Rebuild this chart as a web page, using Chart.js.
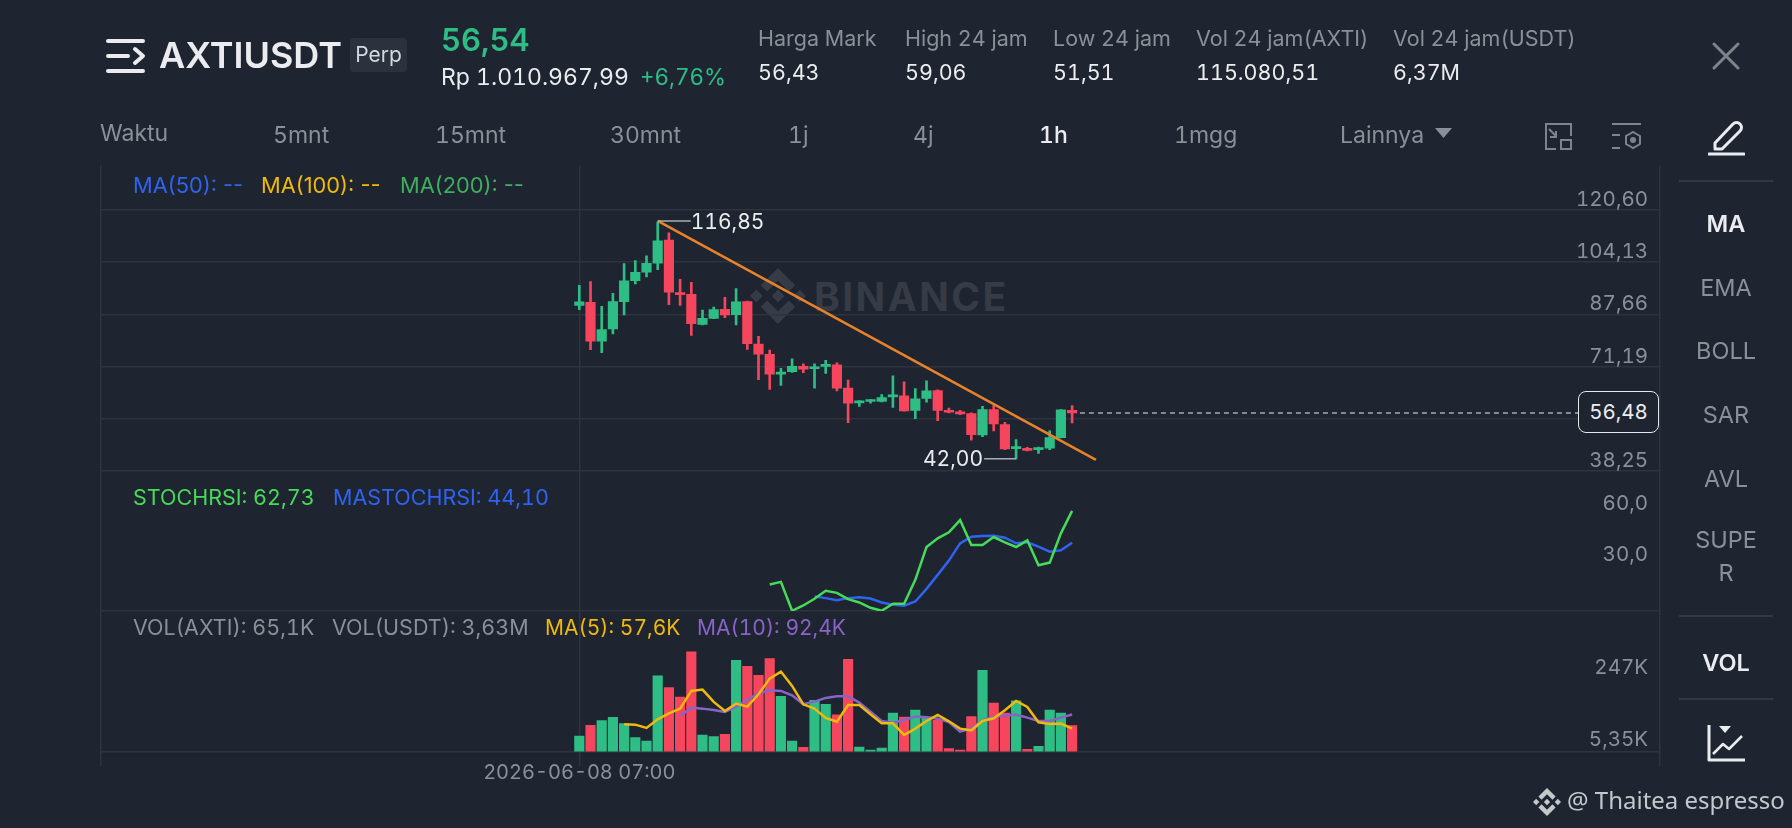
<!DOCTYPE html>
<html>
<head>
<meta charset="utf-8">
<script src="https://cdn.jsdelivr.net/npm/chart.js@4/dist/chart.umd.min.js"></script>
<style>
  html, body { margin: 0; padding: 0; background: #1e2530; width: 1792px; height: 828px; overflow: hidden; }
  body { font-family: Inter, "Noto Sans", sans-serif; color: #eaecef; position: relative; font-variant-numeric: tabular-nums; }
  canvas { position: absolute; left: 0; top: 0; }
  .t { position: absolute; white-space: nowrap; line-height: 1; }
  .g { color: #8b9098; }
  .c { transform: translateX(-50%); }
  .m { font-variant-numeric: normal; font-size: 21.8px; top: 175px; }
  .sep { position: absolute; left: 1679px; width: 94px; height: 2px; background: #323844; }
  svg { position: absolute; }
  #tag { position: absolute; left: 1578px; top: 391px; width: 81px; height: 42px; box-sizing: border-box; border: 1.5px solid #e6e8ea; border-radius: 8px; background: #1e2530; text-align: center; line-height: 40px; font-size: 20.5px; color: #eaecef; }
</style>
</head>
<body>
<svg style="left:750px;top:268px" width="56" height="56" viewBox="0 0 126.61 126.61" fill="#363b46"><path d="M38.73 53.2l24.59-24.58 24.6 24.6 14.3-14.31L63.32 0 24.42 38.9l14.31 14.3z"/><path d="M0 63.31l14.3-14.31 14.31 14.31-14.31 14.3z"/><path d="M38.73 73.41l24.59 24.59 24.6-24.6 14.31 14.29-38.9 38.91-38.91-38.88-.02-.02z"/><path d="M98 63.31l14.3-14.31 14.31 14.3-14.31 14.32z"/><path d="M77.83 63.3L63.32 48.78 52.59 59.51l-1.24 1.23-2.54 2.54 14.51 14.5 14.51-14.47z"/></svg>
<div class="t" style="left:814px;top:277px;font-size:39px;font-weight:700;letter-spacing:2.4px;color:#363b46">BINANCE</div>

<canvas id="chart" width="1792" height="828"></canvas>

<svg style="left:106px;top:38px" width="40" height="36" fill="none" stroke="#eaecef" stroke-width="4" stroke-linecap="round" stroke-linejoin="round"><path d="M2 3H37M2 18H22M2 33H37M29 11L37 18L29 25"/></svg>
<div class="t" style="left:159px;top:37px;font-size:36px;font-weight:600">AXTIUSDT</div>
<div class="t" style="left:350px;top:38px;width:57px;height:34px;background:#2b313d;border-radius:4px;text-align:center;line-height:34px;font-size:21px;color:#d5d8dc">Perp</div>
<div class="t" style="left:441px;top:24px;font-size:31px;font-weight:600;color:#2ebd85">56,54</div>
<div class="t" style="left:441px;top:66px;font-size:23px">Rp 1.010.967,99</div>
<div class="t" style="left:640px;top:66px;font-size:22.4px;color:#2ebd85">+6,76%</div>

<div class="t g" style="left:758px;top:28px;font-size:21.5px">Harga Mark</div>
<div class="t" style="left:758px;top:62px;font-size:21.5px">56,43</div>
<div class="t g" style="left:905px;top:28px;font-size:21.5px">High 24 jam</div>
<div class="t" style="left:905px;top:62px;font-size:21.5px">59,06</div>
<div class="t g" style="left:1053px;top:28px;font-size:21.5px">Low 24 jam</div>
<div class="t" style="left:1053px;top:62px;font-size:21.5px">51,51</div>
<div class="t g" style="left:1196px;top:28px;font-size:21.5px">Vol 24 jam(AXTI)</div>
<div class="t" style="left:1196px;top:62px;font-size:21.5px">115.080,51</div>
<div class="t g" style="left:1393px;top:28px;font-size:21.5px">Vol 24 jam(USDT)</div>
<div class="t" style="left:1393px;top:62px;font-size:21.5px">6,37M</div>

<svg style="left:1712px;top:42px" width="28" height="28" stroke="#7f848c" stroke-width="3" stroke-linecap="round"><path d="M2 2L26 26M26 2L2 26"/></svg>

<div class="t g" style="left:100px;top:122px;font-size:23px">Waktu</div>
<div class="t g" style="left:273px;top:124px;font-size:23px">5mnt</div>
<div class="t g" style="left:435px;top:124px;font-size:23px">15mnt</div>
<div class="t g" style="left:610px;top:124px;font-size:23px">30mnt</div>
<div class="t g" style="left:788px;top:124px;font-size:23px">1j</div>
<div class="t g" style="left:913px;top:124px;font-size:23px">4j</div>
<div class="t" style="left:1039px;top:124px;font-size:23px;font-weight:500">1h</div>
<div class="t g" style="left:1174px;top:124px;font-size:23px">1mgg</div>
<div class="t g" style="left:1340px;top:124px;font-size:23px">Lainnya</div>
<svg style="left:1435px;top:128px" width="17" height="11" fill="#8b9098"><path d="M0 0H17L8.5 10z"/></svg>

<svg style="left:1544px;top:122px" width="29" height="29" fill="none" stroke="#7f848c" stroke-width="2"><path d="M12 27H2V2H27V14M5 7L12 14M6 15H12V9"/><rect x="17" y="18" width="10" height="9"/></svg>
<svg style="left:1611px;top:122px" width="31" height="30" fill="none" stroke="#7f848c" stroke-width="2"><path d="M1 2H30M1 13H9M1 26H9M22 10L29 14V22L22 26L15 22V14Z"/><circle cx="22" cy="18" r="2" fill="#7f848c"/></svg>
<svg style="left:1708px;top:120px" width="37" height="36" fill="none" stroke="#eaecef" stroke-width="3" stroke-linejoin="round"><path d="M7 23L25 4C27 2 30 2 32 4C34 6 34 9 32 11L14 29H7Z"/><path d="M1 34H36" stroke-linecap="round"/></svg>

<div class="sep" style="top:180px"></div>
<div class="t c" style="left:1726px;top:212px;font-size:23.5px;font-weight:600">MA</div>
<div class="t c g" style="left:1726px;top:276px;font-size:23.5px">EMA</div>
<div class="t c g" style="left:1726px;top:339px;font-size:23.5px">BOLL</div>
<div class="t c g" style="left:1726px;top:403px;font-size:23.5px">SAR</div>
<div class="t c g" style="left:1726px;top:467px;font-size:23.5px">AVL</div>
<div class="t c g" style="left:1726px;top:528px;font-size:23.5px">SUPE</div>
<div class="t c g" style="left:1726px;top:561px;font-size:23.5px">R</div>
<div class="sep" style="top:615px"></div>
<div class="t c" style="left:1726px;top:651px;font-size:23.5px;font-weight:600">VOL</div>
<div class="sep" style="top:698px"></div>
<svg style="left:1707px;top:724px" width="39" height="38" fill="none" stroke="#eaecef" stroke-width="3" stroke-linejoin="round"><path d="M2 1V36H38"/><path d="M6 30L16 20L22 25L35 12" stroke-width="2.5"/><path d="M12 2H24L18 9Z" fill="#eaecef" stroke="none"/></svg>

<div class="t m" style="left:133px;color:#2f63f0">MA(50): --</div>
<div class="t m" style="left:261px;color:#f0b90b">MA(100): --</div>
<div class="t m" style="left:400px;color:#3fae5f">MA(200): --</div>
<div class="t" style="left:133px;top:487px;font-size:21.5px;color:#46dc5a">STOCHRSI: 62,73</div>
<div class="t" style="left:333px;top:487px;font-size:21.5px;color:#2f63f0">MASTOCHRSI: 44,10</div>
<div class="t g" style="left:133px;top:617px;font-size:21.5px">VOL(AXTI): 65,1K</div>
<div class="t g" style="left:332px;top:617px;font-size:21.5px">VOL(USDT): 3,63M</div>
<div class="t" style="left:545px;top:617px;font-size:21px;color:#f0b90b">MA(5): 57,6K</div>
<div class="t" style="left:697px;top:617px;font-size:21px;color:#8a63c8">MA(10): 92,4K</div>

<div id="tag">56,48</div>

<svg style="left:1533px;top:788px" width="28" height="28" viewBox="0 0 126.61 126.61" fill="#c4c7cc"><path d="M38.73 53.2l24.59-24.58 24.6 24.6 14.3-14.31L63.32 0 24.42 38.9l14.31 14.3z"/><path d="M0 63.31l14.3-14.31 14.31 14.31-14.31 14.3z"/><path d="M38.73 73.41l24.59 24.59 24.6-24.6 14.31 14.29-38.9 38.91-38.91-38.88-.02-.02z"/><path d="M98 63.31l14.3-14.31 14.31 14.3-14.31 14.32z"/><path d="M77.83 63.3L63.32 48.78 52.59 59.51l-1.24 1.23-2.54 2.54 14.51 14.5 14.51-14.47z"/></svg>
<div class="t" style="left:1567px;top:788px;font-size:24px;font-family:'Noto Sans';color:#c4c7cc">@ Thaitea espresso</div>

<script>
var opens = [90.51, 91.46, 79.21, 83.02, 91.67, 98.33, 100.96, 103.81, 111.10, 94.42, 93.98, 84.49, 86.39, 89.24, 87.56, 91.67, 78.27, 74.99, 68.76, 69.50, 71.19, 70.45, 71.19, 71.72, 64.33, 59.68, 60.10, 60.10, 61.58, 61.89, 57.25, 61.05, 63.58, 57.25, 56.61, 56.30, 49.54, 57.56, 52.81, 45.21, 45.32, 44.89, 45.32, 48.70, 57.35];
var closes = [91.57, 79.21, 82.80, 91.67, 98.22, 100.96, 103.81, 110.89, 94.63, 93.89, 84.71, 86.39, 89.14, 87.45, 91.57, 78.37, 75.10, 68.76, 69.40, 71.19, 70.35, 70.98, 71.72, 64.33, 59.58, 60.10, 60.52, 61.37, 62.00, 57.14, 60.94, 63.48, 57.25, 56.72, 56.19, 49.65, 57.56, 53.02, 45.11, 45.63, 44.68, 45.32, 48.70, 57.46, 56.48];
var highs = [96.85, 98.01, 90.20, 94.31, 103.71, 104.66, 106.14, 116.85, 113.42, 98.75, 97.80, 89.03, 89.98, 93.05, 95.79, 91.88, 80.69, 76.36, 70.56, 73.62, 72.03, 72.03, 73.09, 72.35, 66.90, 60.42, 60.73, 62.32, 68.23, 66.33, 64.22, 66.64, 63.79, 57.99, 57.35, 56.51, 58.62, 58.83, 53.55, 48.06, 45.63, 45.74, 50.81, 57.56, 58.83];
var lows = [89.14, 76.47, 75.52, 81.43, 87.45, 97.27, 99.49, 101.81, 90.72, 90.51, 81.01, 84.28, 86.29, 86.61, 84.28, 76.58, 66.97, 63.91, 65.17, 69.29, 69.18, 64.33, 68.97, 63.48, 53.45, 58.52, 59.57, 59.99, 58.20, 57.04, 54.71, 59.89, 54.08, 56.51, 55.98, 47.85, 49.01, 50.81, 44.89, 42.00, 44.47, 43.73, 44.89, 48.59, 53.34];

var volumes = [39.5, 65.9, 77.4, 85.6, 70.0, 35.4, 27.2, 187.7, 158.9, 135.8, 247.0, 42.0, 37.9, 43.6, 226.4, 211.6, 189.4, 230.5, 137.5, 27.2, 11.5, 127.6, 117.7, 91.4, 228.9, 12.3, 4.9, 9.9, 96.3, 86.4, 103.7, 86.4, 78.2, 8.2, 4.9, 87.3, 201.7, 121.0, 96.3, 126.0, 6.6, 14.0, 103.7, 96.3, 65.1];
var ma5 = [68.3, 67.5, 59.3, 80.7, 95.5, 107.0, 150.7, 154.0, 123.5, 101.3, 119.4, 112.0, 142.4, 181.1, 198.4, 163.0, 117.7, 107.0, 84.0, 74.9, 116.1, 116.1, 93.0, 70.8, 70.8, 42.0, 57.6, 76.6, 91.4, 75.7, 57.6, 53.5, 76.6, 83.2, 102.9, 126.0, 111.1, 73.3, 69.2, 70.0, 57.6];
var ma10 = [88.9, 109.5, 107.0, 103.7, 98.8, 112.0, 128.4, 144.9, 152.3, 150.7, 140.0, 117.7, 124.3, 133.4, 137.5, 137.5, 121.8, 99.6, 76.6, 72.5, 79.0, 87.3, 85.6, 82.3, 74.1, 50.2, 58.5, 78.2, 87.3, 89.7, 92.2, 84.8, 76.6, 76.6, 84.8, 92.4];

var stochRsi = [19.7, 21.25, 4.35, 7.46, 11.35, 16.0, 14.84, 11.15, 9.2, 6.1, 4.35, 8.44, 8.44, 22.4, 41.64, 46.69, 50.19, 57.37, 42.81, 42.81, 47.47, 44.36, 41.64, 45.53, 30.96, 32.52, 49.6, 62.73];
var maStochRsi = [12.71, 11.74, 10.57, 11.74, 12.32, 11.54, 9.21, 7.85, 7.27, 9.79, 17.17, 25.33, 33.68, 43.78, 47.66, 48.05, 48.24, 47.08, 43.78, 44.36, 41.84, 38.92, 39.7, 44.10];

var priceTicks = [38.25, 54.72, 71.19, 87.66, 104.13, 120.60];
var priceTickLabels = ['38,25', '', '71,19', '87,66', '104,13', '120,60'];
var stochTicks = [4.2, 30, 60];
var stochTickLabels = ['', '30,0', '60,0'];
var volTicks = [0, 5.35, 247];
var volTickLabels = ['', ['5,35K', ''], ['', '247K']];
var timeTicks = [-42.75, 0, 96.49];
var timeTickLabels = ['', '2026-06-08 07:00', ''];

var trendX = [7, 46.13];
var trendY = [117.2, 41.64];
var lastPrice = 56.48;
var lastPriceX = [44.7, 89.2];
var highLabel = '116,85';
var lowLabel = '42,00';

var GREEN = '#2ebd85';
var RED = '#f6465d';
var GRID = '#2e343f';
var TICK = '#8b9098';

var idx = opens.map(function (_, i) { return i; });
var candleColors = idx.map(function (i) { return closes[i] >= opens[i] ? GREEN : RED; });
var wicks = idx.map(function (i) { return { x: i, y: [lows[i], highs[i]] }; });
var bodies = idx.map(function (i) { return { x: i, y: [opens[i], closes[i]] }; });
var volBars = idx.map(function (i) { return { x: i, y: volumes[i] }; });

// series that start later than the first candle line up on the last candle
function tail(values) {
  var start = idx.length - values.length;
  return values.map(function (v, i) { return { x: start + i, y: v }; });
}

function setTicks(values) {
  return function (scale) {
    scale.ticks = values.map(function (v) { return { value: v }; });
  };
}

function labelFrom(values, labels) {
  return function (value) {
    return labels[values.indexOf(value)];
  };
}

function lineSet(data, color, yAxisID, extra) {
  return Object.assign({
    type: 'line', data: data, borderColor: color, borderWidth: 2.5, pointRadius: 0,
    tension: 0, fill: false, xAxisID: 'x', yAxisID: yAxisID, order: 1
  }, extra || {});
}

// labels and leader lines for the highest and lowest wick
var extremes = {
  id: 'extremes',
  afterDatasetsDraw: function (chart) {
    var c = chart.ctx, x = chart.scales.x, y = chart.scales.yPrice;
    var hi = highs.indexOf(Math.max.apply(null, highs));
    var lo = lows.indexOf(Math.min.apply(null, lows));
    var hx = x.getPixelForValue(hi), hy = y.getPixelForValue(highs[hi]) - 1;
    var lx = x.getPixelForValue(lo), ly = y.getPixelForValue(lows[lo]);
    c.save();
    c.strokeStyle = '#a9adb3';
    c.lineWidth = 1.5;
    c.beginPath();
    c.moveTo(hx, hy); c.lineTo(hx + 33, hy);
    c.moveTo(lx, ly); c.lineTo(lx - 32, ly);
    c.stroke();
    c.fillStyle = '#eaecef';
    c.font = '21px Inter';
    c.textBaseline = 'middle';
    c.textAlign = 'left';
    c.fillText(highLabel, hx + 33, hy + 2);
    c.textAlign = 'right';
    c.fillText(lowLabel, lx - 33, ly + 1);
    c.restore();
  }
};

var ctx = document.getElementById('chart').getContext('2d');
var myChart = new Chart(ctx, {
  type: 'bar',
  data: {
    datasets: [
      { data: wicks, backgroundColor: candleColors, barThickness: 2, minBarLength: 1, xAxisID: 'x', yAxisID: 'yPrice', order: 4 },
      { data: bodies, backgroundColor: candleColors, barThickness: 9.5, minBarLength: 2, xAxisID: 'x', yAxisID: 'yPrice', order: 3 },
      lineSet(trendX.map(function (v, i) { return { x: v, y: trendY[i] }; }), '#e8832a', 'yPrice', { order: 2 }),
      lineSet(lastPriceX.map(function (v) { return { x: v, y: lastPrice }; }), '#a6aab1', 'yPrice', { borderWidth: 1.5, borderDash: [5, 4] }),
      lineSet(tail(stochRsi), '#46dc5a', 'yStoch'),
      lineSet(tail(maStochRsi), '#2f63f0', 'yStoch'),
      { data: volBars, backgroundColor: candleColors, barThickness: 9.5, xAxisID: 'x', yAxisID: 'yVol', order: 3 },
      lineSet(tail(ma5), '#f0b90b', 'yVol'),
      lineSet(tail(ma10), '#8a63c8', 'yVol')
    ]
  },
  options: {
    responsive: false,
    maintainAspectRatio: false,
    animation: false,
    devicePixelRatio: 1,
    grouped: false,
    layout: { padding: { left: 100.5, right: 132, top: 165, bottom: 48 } },
    plugins: { legend: { display: false }, tooltip: { enabled: false } },
    font: { family: 'Inter' },
    scales: {
      x: {
        type: 'linear',
        axis: 'x',
        position: 'bottom',
        min: timeTicks[0],
        max: timeTicks[2],
        offset: false,
        afterBuildTicks: setTicks(timeTicks),
        grid: { color: GRID, offset: false, tickLength: 14, tickColor: GRID, lineWidth: 1.5 },
        border: { display: false },
        ticks: {
          autoSkip: false, maxRotation: 0, includeBounds: true, color: TICK, padding: -5,
          font: { size: 20, family: 'Inter' },
          callback: labelFrom(timeTicks, timeTickLabels)
        }
      },
      yPrice: {
        type: 'linear',
        axis: 'y',
        position: 'right',
        stack: 'panes',
        stackWeight: 305.3,
        min: 38.25,
        max: 134.85,
        afterBuildTicks: setTicks(priceTicks),
        grid: { color: GRID, drawTicks: false, lineWidth: 1.5 },
        border: { display: false },
        ticks: {
          autoSkip: false, mirror: true, padding: -12, labelOffset: -10, color: TICK,
          font: { size: 20.5, family: 'Inter' },
          callback: labelFrom(priceTicks, priceTickLabels)
        }
      },
      yStoch: {
        type: 'linear',
        axis: 'y',
        position: 'right',
        stack: 'panes',
        stackWeight: 140.2,
        min: 4.2,
        max: 86.25,
        afterBuildTicks: setTicks(stochTicks),
        grid: {
          drawTicks: false, lineWidth: 1.5,
          color: function (c) { return c.tick && c.tick.value === stochTicks[0] ? GRID : 'transparent'; }
        },
        border: { display: false },
        ticks: {
          autoSkip: false, mirror: true, padding: -12, labelOffset: -12, color: TICK,
          font: { size: 20.5, family: 'Inter' },
          callback: labelFrom(stochTicks, stochTickLabels)
        }
      },
      yVol: {
        type: 'linear',
        axis: 'y',
        position: 'right',
        stack: 'panes',
        stackWeight: 140.8,
        min: 0,
        max: 347.8,
        afterBuildTicks: setTicks(volTicks),
        grid: {
          drawTicks: false, lineWidth: 1.5,
          color: function (c) { return c.tick && c.tick.value === 0 ? GRID : 'transparent'; }
        },
        border: { display: false },
        ticks: {
          autoSkip: false, mirror: true, padding: -12, labelOffset: 3, color: TICK,
          font: { size: 20.5, family: 'Inter', lineHeight: 1.3 },
          callback: labelFrom(volTicks, volTickLabels)
        }
      }
    }
  },
  plugins: [extremes]
});
</script>
</body>
</html>
